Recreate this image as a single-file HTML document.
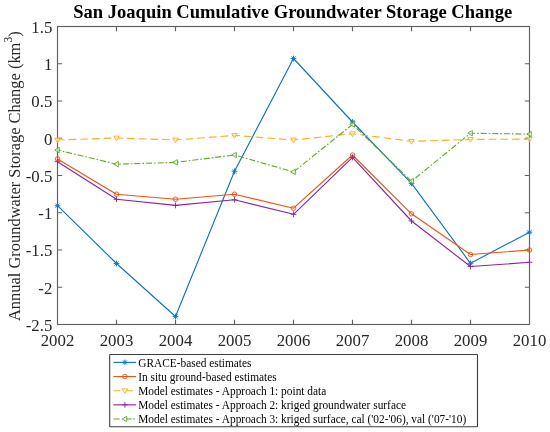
<!DOCTYPE html>
<html><head><meta charset="utf-8"><title>San Joaquin Cumulative Groundwater Storage Change</title>
<style>html,body{margin:0;padding:0;background:#fff;width:550px;height:432px;overflow:hidden}</style>
</head><body>
<svg width="550" height="432" viewBox="0 0 550 432" style="position:absolute;left:0;top:0">
<rect width="550" height="432" fill="#fff"/>
<defs><clipPath id="cp"><rect x="53.5" y="22.5" width="480.0" height="306.0"/></clipPath></defs>
<rect x="57.5" y="26.5" width="472.0" height="298.0" fill="none" stroke="#606060" stroke-width="1.15"/>
<path d="M116.50 324.5v-4.7M116.50 26.5v4.7M175.50 324.5v-4.7M175.50 26.5v4.7M234.50 324.5v-4.7M234.50 26.5v4.7M293.50 324.5v-4.7M293.50 26.5v4.7M352.50 324.5v-4.7M352.50 26.5v4.7M411.50 324.5v-4.7M411.50 26.5v4.7M470.50 324.5v-4.7M470.50 26.5v4.7M57.5 63.75h4.7M529.5 63.75h-4.7M57.5 101.00h4.7M529.5 101.00h-4.7M57.5 138.25h4.7M529.5 138.25h-4.7M57.5 175.50h4.7M529.5 175.50h-4.7M57.5 212.75h4.7M529.5 212.75h-4.7M57.5 250.00h4.7M529.5 250.00h-4.7M57.5 287.25h4.7M529.5 287.25h-4.7" stroke="#606060" stroke-width="1.15" fill="none"/>
<g clip-path="url(#cp)">
<polyline points="57.5,205.7 116.5,263.5 175.5,316.5 234.5,171.3 293.5,58.5 352.5,122.0 411.5,183.4 470.5,263.3 529.5,232.2" fill="none" stroke="#0873C6" stroke-width="1.12" stroke-linejoin="round"/>
<path d="M54.60 205.70H60.40M57.50 202.80V208.60M55.45 203.65L59.55 207.75M55.45 207.75L59.55 203.65" stroke="#0873C6" stroke-width="0.9" fill="none"/>
<path d="M113.60 263.50H119.40M116.50 260.60V266.40M114.45 261.45L118.55 265.55M114.45 265.55L118.55 261.45" stroke="#0873C6" stroke-width="0.9" fill="none"/>
<path d="M172.60 316.50H178.40M175.50 313.60V319.40M173.45 314.45L177.55 318.55M173.45 318.55L177.55 314.45" stroke="#0873C6" stroke-width="0.9" fill="none"/>
<path d="M231.60 171.30H237.40M234.50 168.40V174.20M232.45 169.25L236.55 173.35M232.45 173.35L236.55 169.25" stroke="#0873C6" stroke-width="0.9" fill="none"/>
<path d="M290.60 58.50H296.40M293.50 55.60V61.40M291.45 56.45L295.55 60.55M291.45 60.55L295.55 56.45" stroke="#0873C6" stroke-width="0.9" fill="none"/>
<path d="M349.60 122.00H355.40M352.50 119.10V124.90M350.45 119.95L354.55 124.05M350.45 124.05L354.55 119.95" stroke="#0873C6" stroke-width="0.9" fill="none"/>
<path d="M408.60 183.40H414.40M411.50 180.50V186.30M409.45 181.35L413.55 185.45M409.45 185.45L413.55 181.35" stroke="#0873C6" stroke-width="0.9" fill="none"/>
<path d="M467.60 263.30H473.40M470.50 260.40V266.20M468.45 261.25L472.55 265.35M468.45 265.35L472.55 261.25" stroke="#0873C6" stroke-width="0.9" fill="none"/>
<path d="M526.60 232.20H532.40M529.50 229.30V235.10M527.45 230.15L531.55 234.25M527.45 234.25L531.55 230.15" stroke="#0873C6" stroke-width="0.9" fill="none"/>
<polyline points="57.5,158.9 116.5,194.2 175.5,199.3 234.5,194.2 293.5,208.2 352.5,155.0 411.5,213.8 470.5,254.5 529.5,250.0" fill="none" stroke="#F0520F" stroke-width="1.12" stroke-linejoin="round"/>
<circle cx="57.50" cy="158.90" r="2.25" stroke="#F0520F" stroke-width="0.9" fill="none"/>
<circle cx="116.50" cy="194.20" r="2.25" stroke="#F0520F" stroke-width="0.9" fill="none"/>
<circle cx="175.50" cy="199.30" r="2.25" stroke="#F0520F" stroke-width="0.9" fill="none"/>
<circle cx="234.50" cy="194.20" r="2.25" stroke="#F0520F" stroke-width="0.9" fill="none"/>
<circle cx="293.50" cy="208.20" r="2.25" stroke="#F0520F" stroke-width="0.9" fill="none"/>
<circle cx="352.50" cy="155.00" r="2.25" stroke="#F0520F" stroke-width="0.9" fill="none"/>
<circle cx="411.50" cy="213.80" r="2.25" stroke="#F0520F" stroke-width="0.9" fill="none"/>
<circle cx="470.50" cy="254.50" r="2.25" stroke="#F0520F" stroke-width="0.9" fill="none"/>
<circle cx="529.50" cy="250.00" r="2.25" stroke="#F0520F" stroke-width="0.9" fill="none"/>
<polyline points="57.5,140.0 116.5,138.0 175.5,140.0 234.5,135.4 293.5,140.0 352.5,133.7 411.5,141.3 470.5,139.4 529.5,139.1" fill="none" stroke="#F8AE18" stroke-width="1.12" stroke-dasharray="7.6 4.1" stroke-dashoffset="0.5" stroke-linejoin="round"/>
<path d="M54.76 138.15H60.24L57.50 142.80Z" stroke="#F8AE18" stroke-width="0.9" fill="#fff" fill-opacity="0.55" stroke-linejoin="miter"/>
<path d="M113.76 136.15H119.24L116.50 140.80Z" stroke="#F8AE18" stroke-width="0.9" fill="#fff" fill-opacity="0.55" stroke-linejoin="miter"/>
<path d="M172.76 138.15H178.24L175.50 142.80Z" stroke="#F8AE18" stroke-width="0.9" fill="#fff" fill-opacity="0.55" stroke-linejoin="miter"/>
<path d="M231.76 133.55H237.24L234.50 138.20Z" stroke="#F8AE18" stroke-width="0.9" fill="#fff" fill-opacity="0.55" stroke-linejoin="miter"/>
<path d="M290.76 138.15H296.24L293.50 142.80Z" stroke="#F8AE18" stroke-width="0.9" fill="#fff" fill-opacity="0.55" stroke-linejoin="miter"/>
<path d="M349.76 131.85H355.24L352.50 136.50Z" stroke="#F8AE18" stroke-width="0.9" fill="#fff" fill-opacity="0.55" stroke-linejoin="miter"/>
<path d="M408.76 139.45H414.24L411.50 144.10Z" stroke="#F8AE18" stroke-width="0.9" fill="#fff" fill-opacity="0.55" stroke-linejoin="miter"/>
<path d="M467.76 137.55H473.24L470.50 142.20Z" stroke="#F8AE18" stroke-width="0.9" fill="#fff" fill-opacity="0.55" stroke-linejoin="miter"/>
<path d="M526.76 137.25H532.24L529.50 141.90Z" stroke="#F8AE18" stroke-width="0.9" fill="#fff" fill-opacity="0.55" stroke-linejoin="miter"/>
<polyline points="57.5,161.7 116.5,199.3 175.5,205.4 234.5,199.8 293.5,214.3 352.5,157.4 411.5,221.0 470.5,266.5 529.5,262.3" fill="none" stroke="#8A24A2" stroke-width="1.12" stroke-linejoin="round"/>
<path d="M54.60 161.70H60.40M57.50 158.80V164.60" stroke="#8A24A2" stroke-width="0.9" fill="none"/>
<path d="M113.60 199.30H119.40M116.50 196.40V202.20" stroke="#8A24A2" stroke-width="0.9" fill="none"/>
<path d="M172.60 205.40H178.40M175.50 202.50V208.30" stroke="#8A24A2" stroke-width="0.9" fill="none"/>
<path d="M231.60 199.80H237.40M234.50 196.90V202.70" stroke="#8A24A2" stroke-width="0.9" fill="none"/>
<path d="M290.60 214.30H296.40M293.50 211.40V217.20" stroke="#8A24A2" stroke-width="0.9" fill="none"/>
<path d="M349.60 157.40H355.40M352.50 154.50V160.30" stroke="#8A24A2" stroke-width="0.9" fill="none"/>
<path d="M408.60 221.00H414.40M411.50 218.10V223.90" stroke="#8A24A2" stroke-width="0.9" fill="none"/>
<path d="M467.60 266.50H473.40M470.50 263.60V269.40" stroke="#8A24A2" stroke-width="0.9" fill="none"/>
<path d="M526.60 262.30H532.40M529.50 259.40V265.20" stroke="#8A24A2" stroke-width="0.9" fill="none"/>
<polyline points="57.5,150.0 116.5,164.2 175.5,162.4 234.5,155.0 293.5,171.9 352.5,124.4 411.5,181.3 470.5,133.2 529.5,134.1" fill="none" stroke="#62AA20" stroke-width="1.12" stroke-dasharray="6 2 1.6 2" stroke-dashoffset="2.6" stroke-linejoin="round"/>
<path d="M59.35 147.26V152.74L54.70 150.00Z" stroke="#62AA20" stroke-width="0.9" fill="#fff" fill-opacity="0.55" stroke-linejoin="miter"/>
<path d="M118.35 161.46V166.94L113.70 164.20Z" stroke="#62AA20" stroke-width="0.9" fill="#fff" fill-opacity="0.55" stroke-linejoin="miter"/>
<path d="M177.35 159.66V165.14L172.70 162.40Z" stroke="#62AA20" stroke-width="0.9" fill="#fff" fill-opacity="0.55" stroke-linejoin="miter"/>
<path d="M236.35 152.26V157.74L231.70 155.00Z" stroke="#62AA20" stroke-width="0.9" fill="#fff" fill-opacity="0.55" stroke-linejoin="miter"/>
<path d="M295.35 169.16V174.64L290.70 171.90Z" stroke="#62AA20" stroke-width="0.9" fill="#fff" fill-opacity="0.55" stroke-linejoin="miter"/>
<path d="M354.35 121.66V127.14L349.70 124.40Z" stroke="#62AA20" stroke-width="0.9" fill="#fff" fill-opacity="0.55" stroke-linejoin="miter"/>
<path d="M413.35 178.56V184.04L408.70 181.30Z" stroke="#62AA20" stroke-width="0.9" fill="#fff" fill-opacity="0.55" stroke-linejoin="miter"/>
<path d="M472.35 130.46V135.94L467.70 133.20Z" stroke="#62AA20" stroke-width="0.9" fill="#fff" fill-opacity="0.55" stroke-linejoin="miter"/>
<path d="M531.35 131.36V136.84L526.70 134.10Z" stroke="#62AA20" stroke-width="0.9" fill="#fff" fill-opacity="0.55" stroke-linejoin="miter"/>
</g>
<g font-family="Liberation Serif, Times New Roman, serif" font-size="17.6" fill="#262626">
<text transform="translate(57.5 346) scale(0.955 1)" text-anchor="middle">2002</text>
<text transform="translate(116.5 346) scale(0.955 1)" text-anchor="middle">2003</text>
<text transform="translate(175.5 346) scale(0.955 1)" text-anchor="middle">2004</text>
<text transform="translate(234.5 346) scale(0.955 1)" text-anchor="middle">2005</text>
<text transform="translate(293.5 346) scale(0.955 1)" text-anchor="middle">2006</text>
<text transform="translate(352.5 346) scale(0.955 1)" text-anchor="middle">2007</text>
<text transform="translate(411.5 346) scale(0.955 1)" text-anchor="middle">2008</text>
<text transform="translate(470.5 346) scale(0.955 1)" text-anchor="middle">2009</text>
<text transform="translate(529.5 346) scale(0.955 1)" text-anchor="middle">2010</text>
<text transform="translate(52.3 32.9) scale(0.955 1)" text-anchor="end">1.5</text>
<text transform="translate(52.3 70.2) scale(0.955 1)" text-anchor="end">1</text>
<text transform="translate(52.3 107.4) scale(0.955 1)" text-anchor="end">0.5</text>
<text transform="translate(52.3 144.7) scale(0.955 1)" text-anchor="end">0</text>
<text transform="translate(52.3 181.9) scale(0.955 1)" text-anchor="end">-0.5</text>
<text transform="translate(52.3 219.2) scale(0.955 1)" text-anchor="end">-1</text>
<text transform="translate(52.3 256.4) scale(0.955 1)" text-anchor="end">-1.5</text>
<text transform="translate(52.3 293.6) scale(0.955 1)" text-anchor="end">-2</text>
<text transform="translate(52.3 330.9) scale(0.955 1)" text-anchor="end">-2.5</text>
</g>
<text transform="translate(19.6 176.2) rotate(-90)" text-anchor="middle" font-family="Liberation Serif, Times New Roman, serif" font-size="16.45" fill="#262626">Annual Groundwater Storage Change (km<tspan font-size="11.5" dy="-7.5">3</tspan><tspan dy="7.5">)</tspan></text>
<text transform="translate(292.7 18.1) scale(0.962 1)" text-anchor="middle" font-family="Liberation Serif, Times New Roman, serif" font-weight="bold" font-size="19.3" fill="#000">San Joaquin Cumulative Groundwater Storage Change</text>
<rect x="109.7" y="354.5" width="367.8" height="72.30000000000001" fill="#fff" stroke="#3c3c3c" stroke-width="1.1" rx="0.6"/>
<g font-family="Liberation Serif, Times New Roman, serif" font-size="11.95" fill="#000">
<path d="M113.4 362.4 H136" stroke="#0873C6" stroke-width="1.12" fill="none"/>
<path d="M122.00 362.40H127.80M124.90 359.50V365.30M122.85 360.35L126.95 364.45M122.85 364.45L126.95 360.35" stroke="#0873C6" stroke-width="0.9" fill="none"/>
<text transform="translate(138.2 366.7) scale(0.951 1)">GRACE-based estimates</text>
<path d="M113.4 376.54999999999995 H136" stroke="#F0520F" stroke-width="1.12" fill="none"/>
<circle cx="124.90" cy="376.55" r="2.25" stroke="#F0520F" stroke-width="0.9" fill="none"/>
<text transform="translate(138.2 380.8) scale(0.951 1)">In situ ground-based estimates</text>
<path d="M113.6 390.7 H120.2 M125 390.7 H132.8" stroke="#F8AE18" stroke-width="1.12" fill="none"/>
<path d="M122.16 388.85H127.64L124.90 393.50Z" stroke="#F8AE18" stroke-width="0.9" fill="#fff" fill-opacity="0.55" stroke-linejoin="miter"/>
<text transform="translate(138.2 395.0) scale(0.951 1)">Model estimates - Approach 1: point data</text>
<path d="M113.4 404.84999999999997 H136" stroke="#8A24A2" stroke-width="1.12" fill="none"/>
<path d="M122.00 404.85H127.80M124.90 401.95V407.75" stroke="#8A24A2" stroke-width="0.9" fill="none"/>
<text transform="translate(138.2 409.1) scale(0.951 1)">Model estimates - Approach 2: kriged groundwater surface</text>
<path d="M113.6 419.0 H119.6 M126 419.0 H131.7 M133.1 419.0 H134.8" stroke="#62AA20" stroke-width="1.12" fill="none"/>
<path d="M126.75 416.26V421.74L122.10 419.00Z" stroke="#62AA20" stroke-width="0.9" fill="#fff" fill-opacity="0.55" stroke-linejoin="miter"/>
<text transform="translate(138.2 423.3) scale(0.951 1)">Model estimates - Approach 3: kriged surface, cal ('02-'06), val ('07-'10)</text>
</g>
</svg>
</body></html>
